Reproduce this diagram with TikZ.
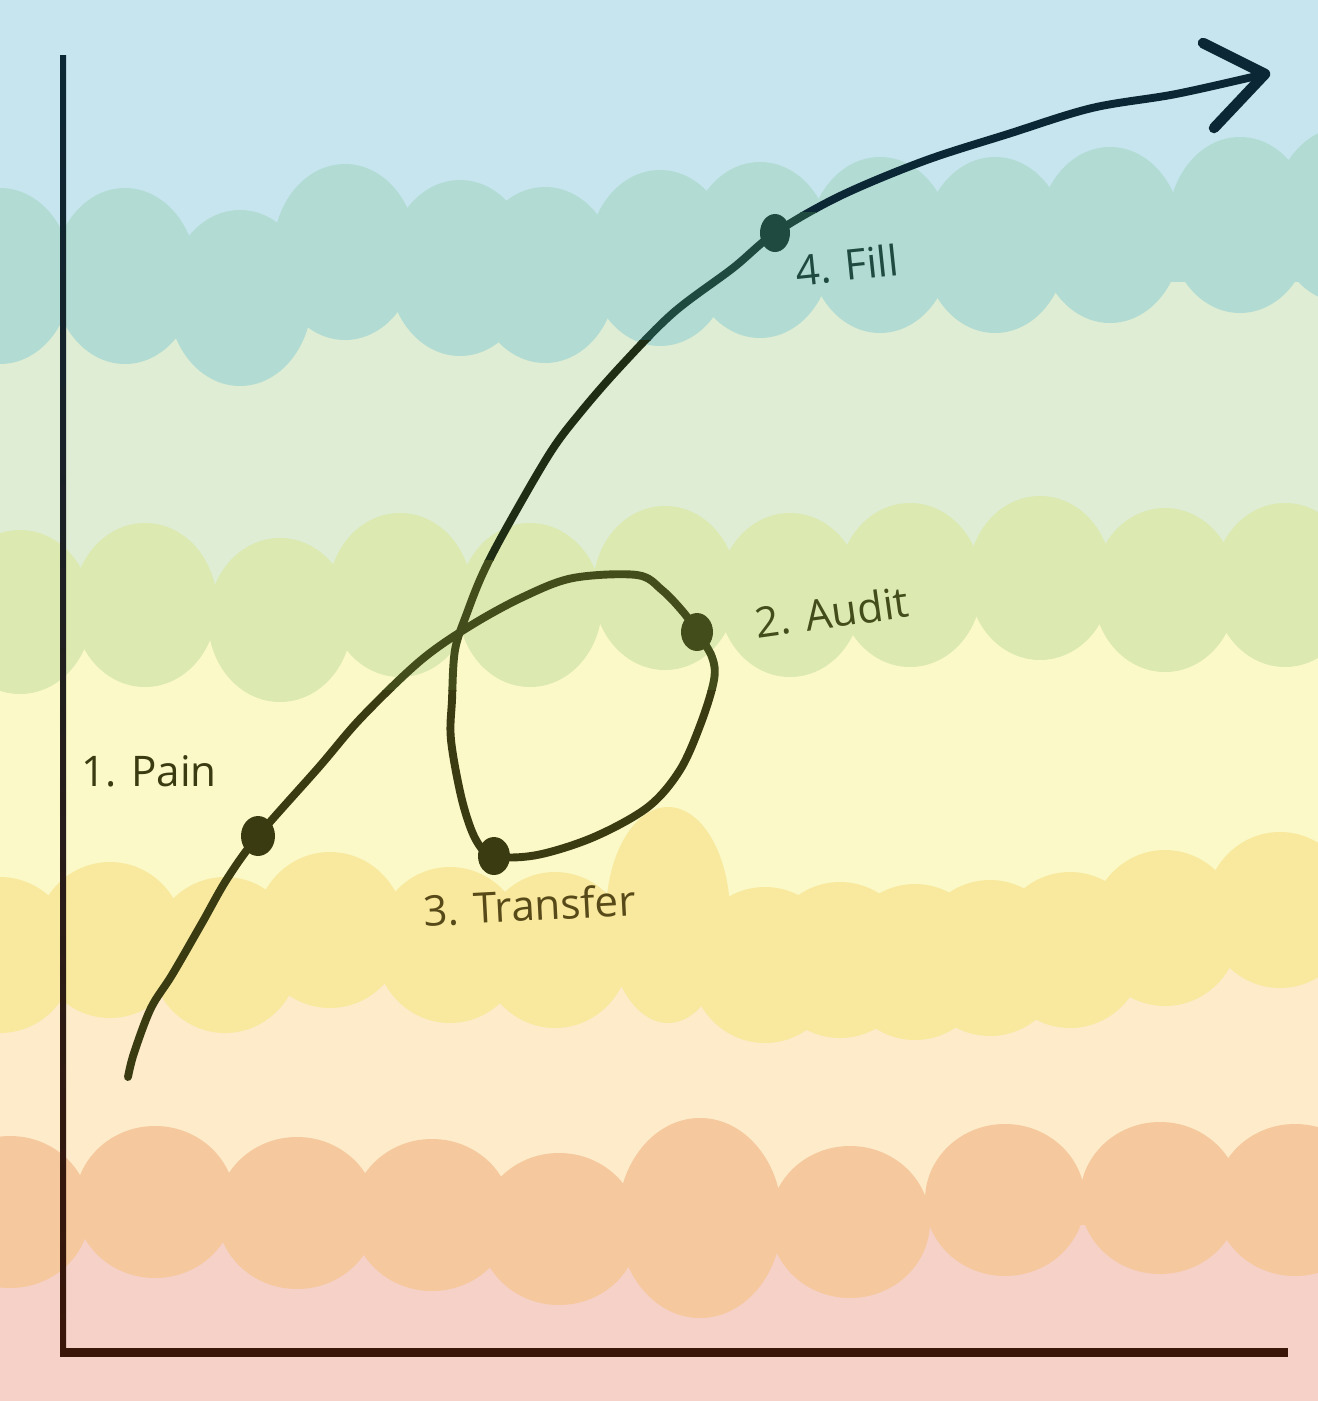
\documentclass[tikz,border=0pt]{standalone}
\usepackage{fontspec}
\setmainfont{Open Sans}
\usetikzlibrary{positioning}

\definecolor{skyblue}{HTML}{C6E5EF}
\definecolor{tealband}{HTML}{B2DCD3}
\definecolor{palegreen}{HTML}{DFEDD4}
\definecolor{limeband}{HTML}{DCE9B0}
\definecolor{paleyellow}{HTML}{FBF9C8}
\definecolor{yellowband}{HTML}{F8E99E}
\definecolor{peach}{HTML}{FDEBCA}
\definecolor{orangeband}{HTML}{F5C89D}
\definecolor{blush}{HTML}{F5D1C8}
\definecolor{inknavy}{HTML}{0B2735}
\definecolor{inkteal}{HTML}{1F4A40}
\definecolor{inkgreen}{HTML}{1E2D14}
\definecolor{inklime}{HTML}{434D1C}
\definecolor{inkolive}{HTML}{3B3B12}
\definecolor{inkgold}{HTML}{574A18}
\definecolor{inkbrown}{HTML}{3A1608}

\tikzset{
  ink/.style={line width=4.5pt, line cap=round, line join=round},
  stage/.style={inner sep=0pt, font=\fontsize{24}{28}\selectfont}
}

\newcommand{\journey}{plot[smooth, tension=0.55] coordinates {
  (start) (134,1053) (151,1008) (172,975) (202,923) (227,879) (pain)
  (319,767) (361,718) (420,661) (470,626) (523,597) (573,578) (637,575)
  (662,590) (684,613) (audit) (712,657) (714,680) (701,723) (680,770)
  (648,807) (594,837) (537,855) (transfer) (476,840) (462,800) (451,740)
  (452,700) (455,650) (467,613) (483,573) (507,527) (550,453) (580,413)
  (620,367) (673,313) (733,268) (fill) (840,196) (924,161) (1008,134)
  (1092,108) (1176,94) (tip)}}

\begin{document}
\begin{tikzpicture}[x=0.02cm, y=-0.02cm]
\useasboundingbox (0,0) rectangle (1318,1401);
% background
\fill[skyblue] (0,0) rectangle (1318,280);
\fill[palegreen] (0,280) rectangle (1318,600);
\fill[paleyellow] (0,600) rectangle (1318,950);
\fill[peach] (0,950) rectangle (1318,1210);
\fill[blush] (0,1210) rectangle (1318,1401);
% bands
\fill[tealband] (0,252) rectangle (1318,282);
\foreach \x/\y in {0/276,125/276,240/298,345/252,460/268,545/275,660/258,
  760/250,880/245,995/245,1110/235,1240/225,1345/215}
  \fill[tealband] (\x,\y) ellipse [x radius=72, y radius=88];
\fill[limeband] (0,588) rectangle (1318,612);
\foreach \x/\y in {20/612,145/605,280/620,400/595,530/605,665/588,790/595,
  910/585,1040/578,1165/590,1285/585}
  \fill[limeband] (\x,\y) ellipse [x radius=72, y radius=82];
\fill[yellowband] (0,930) rectangle (1318,950);
\foreach \x/\y in {0/955,110/940,225/955,330/930,450/945,555/950,765/965,
  840/960,915/962,990/958,1070/950,1165/928,1280/910}
  \fill[yellowband] (\x,\y) ellipse [x radius=75, y radius=78];
\fill[yellowband] (668,915) ellipse [x radius=62, y radius=108];
\fill[orangeband] (0,1200) rectangle (1318,1225);
\foreach \x/\y in {10/1212,155/1202,297/1213,432/1215,559/1229,850/1222,
  1005/1200,1160/1198,1295/1200}
  \fill[orangeband] (\x,\y) ellipse [x radius=80, y radius=76];
\fill[orangeband] (700,1218) ellipse [x radius=82, y radius=100];
% axes
\coordinate (top) at (63,55);
\coordinate (origin) at (63,1352);
\coordinate (right) at (1288,1352);
\shade[top color=inknavy, middle color=inkolive, bottom color=inkbrown]
  (60,55) rectangle (66,1356);
\fill[inkbrown] (63,1348) rectangle (1288,1357);
% stages
\coordinate (start) at (128,1077);
\coordinate (pain) at (258,836);
\coordinate (audit) at (697,632);
\coordinate (transfer) at (494,856);
\coordinate (fill) at (775,233);
\coordinate (tip) at (1265,74);
\foreach \c/\ya/\yb in {inknavy/0/212,inkteal/212/340,inkgreen/340/560,
  inklime/560/690,inkolive/690/1401}{
  \begin{scope}
  \clip (0,\ya) rectangle (1318,\yb);
  \draw[ink, \c] \journey;
  \end{scope}
}
\draw[ink, inknavy, line width=6pt] (1203,43) -- (tip) -- (1214,128);
\fill[inkolive] (pain) ellipse [x radius=17, y radius=20];
\fill[inklime] (audit) ellipse [x radius=16, y radius=19];
\fill[inkolive] (transfer) ellipse [x radius=16, y radius=19];
\fill[inkteal] (fill) ellipse [x radius=15, y radius=19];
% labels
\node[stage, text=inkolive] (painlbl) at (149,771) {1. Pain};
\node[stage, text=inklime, rotate=8] (auditlbl) at (832,612) {2. Audit};
\node[stage, text=inkgold, rotate=3] (transferlbl) at (530,905) {3. Transfer};
\node[stage, text=inkteal, rotate=6] (filllbl) at (847,265) {4. Fill};
\end{tikzpicture}
\end{document}
